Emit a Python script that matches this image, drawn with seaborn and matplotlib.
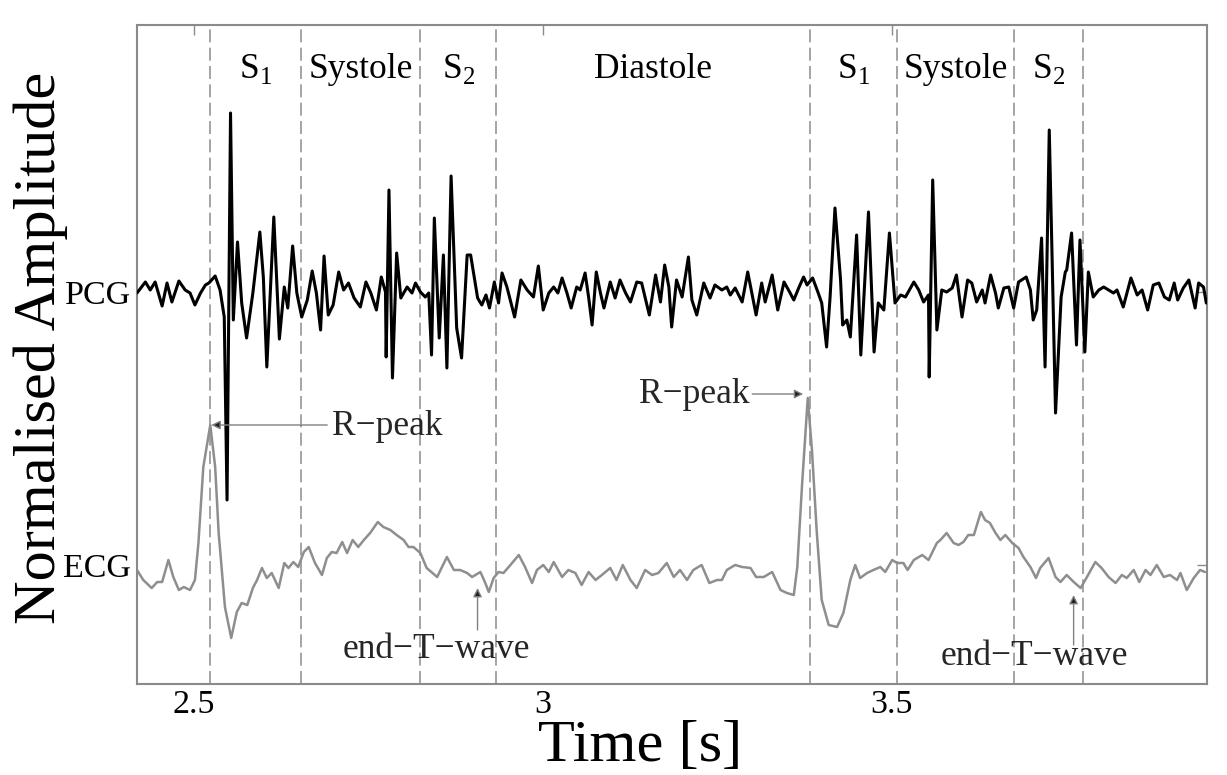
import numpy as np
import pandas as pd
import matplotlib
matplotlib.use("Agg")
import matplotlib.pyplot as plt
import seaborn as sns

# ---------------- data ----------------
pcg_t = [
    2.419, 2.431, 2.438, 2.445, 2.455, 2.462, 2.469, 2.479, 2.488, 2.495,
    2.502, 2.510, 2.517, 2.522, 2.531, 2.538, 2.544, 2.548, 2.553, 2.557,
    2.563, 2.569, 2.576, 2.585, 2.595, 2.600, 2.605, 2.615, 2.623, 2.630,
    2.635, 2.642, 2.648, 2.655, 2.663, 2.670, 2.676, 2.682, 2.687, 2.693,
    2.700, 2.708, 2.715, 2.722, 2.730, 2.739, 2.747, 2.754, 2.762, 2.769,
    2.775, 2.776, 2.780, 2.785, 2.791, 2.797, 2.806, 2.813, 2.818, 2.825,
    2.832, 2.837, 2.841, 2.845, 2.852, 2.858, 2.863, 2.869, 2.877, 2.884,
    2.892, 2.897, 2.907, 2.913, 2.919, 2.924, 2.931, 2.937, 2.942, 2.949,
    2.960, 2.969, 2.978, 2.987, 2.994, 3.001, 3.009, 3.016, 3.022, 3.028,
    3.035, 3.041, 3.049, 3.054, 3.061, 3.066, 3.071, 3.077, 3.083, 3.088,
    3.097, 3.104, 3.111, 3.119, 3.126, 3.135, 3.142, 3.153, 3.162, 3.169,
    3.175, 3.181, 3.185, 3.192, 3.200, 3.209, 3.214, 3.221, 3.231, 3.240,
    3.247, 3.257, 3.264, 3.269, 3.276, 3.286, 3.294, 3.306, 3.314, 3.319,
    3.329, 3.337, 3.346, 3.354, 3.360, 3.367, 3.374, 3.379, 3.387, 3.395,
    3.400, 3.407, 3.412, 3.419, 3.427, 3.430, 3.436, 3.441, 3.450, 3.456,
    3.467, 3.475, 3.481, 3.489, 3.497, 3.505, 3.513, 3.520, 3.532, 3.539,
    3.546, 3.553, 3.554, 3.559, 3.565, 3.572, 3.579, 3.587, 3.593, 3.601,
    3.609, 3.615, 3.622, 3.630, 3.634, 3.642, 3.649, 3.653, 3.661, 3.668,
    3.675, 3.682, 3.693, 3.699, 3.703, 3.708, 3.715, 3.720, 3.726, 3.735,
    3.743, 3.749, 3.751, 3.758, 3.765, 3.770, 3.777, 3.782, 3.789, 3.797,
    3.804, 3.811, 3.818, 3.823, 3.832, 3.843, 3.852, 3.859, 3.867, 3.875,
    3.883, 3.891, 3.898, 3.905, 3.910, 3.918, 3.926, 3.935, 3.940, 3.947,
    3.951,
]
pcg_amp = [
    -0.01, 0.10, 0.02, 0.10, -0.14, 0.09, -0.10, 0.11, 0.02, -0.01,
    -0.13, -0.01, 0.07, 0.09, 0.16, 0.02, -0.25, -2.08, 1.79, -0.28,
    0.50, -0.11, -0.46, -0.01, 0.60, 0.15, -0.75, 0.75, -0.47, 0.05,
    -0.16, 0.46, -0.01, -0.25, -0.08, 0.21, -0.01, -0.38, 0.36, -0.23,
    -0.13, 0.20, 0.02, 0.09, -0.06, -0.15, 0.10, -0.01, -0.18, 0.15,
    0.00, -0.65, 1.02, -0.86, 0.39, -0.06, 0.05, -0.01, 0.09, 0.00,
    -0.05, -0.01, -0.63, 0.74, -0.46, 0.37, -0.76, 1.16, -0.36, -0.66,
    0.37, 0.37, -0.06, -0.13, -0.03, -0.16, 0.10, -0.11, 0.19, 0.05,
    -0.25, 0.12, 0.02, -0.05, 0.26, -0.18, -0.01, 0.05, -0.01, 0.14,
    -0.01, -0.16, 0.05, 0.02, 0.19, -0.05, -0.33, 0.20, -0.01, -0.16,
    0.10, -0.06, 0.12, -0.01, -0.10, 0.10, 0.09, -0.23, 0.17, -0.10,
    0.27, 0.05, -0.35, 0.12, -0.05, 0.35, -0.08, -0.23, 0.09, -0.06,
    0.07, 0.02, 0.05, -0.03, 0.04, -0.10, 0.20, -0.23, 0.09, -0.10,
    0.17, -0.18, 0.10, 0.00, -0.08, 0.04, 0.15, 0.07, 0.14, -0.01,
    -0.11, -0.55, -0.05, 0.84, 0.12, -0.33, -0.28, -0.45, 0.57, -0.63,
    0.80, -0.60, -0.11, -0.18, 0.59, -0.11, -0.03, -0.05, 0.10, 0.02,
    -0.10, -0.03, -0.85, 1.12, -0.38, 0.02, 0.00, 0.04, 0.17, -0.25,
    0.12, 0.09, -0.10, 0.02, -0.11, 0.17, -0.01, -0.16, 0.04, 0.05,
    -0.16, 0.10, 0.15, 0.02, -0.28, -0.18, 0.54, -0.75, 1.62, -1.21,
    -0.05, 0.20, 0.22, 0.59, -0.53, 0.52, -0.60, 0.20, -0.05, 0.02,
    0.05, 0.02, -0.01, 0.02, -0.15, 0.14, -0.03, 0.02, -0.18, 0.07,
    0.09, -0.05, -0.08, 0.09, -0.08, 0.04, 0.12, -0.16, 0.09, 0.05,
    -0.11,
]
ecg_t = [
    2.419, 2.428, 2.440, 2.448, 2.455, 2.464, 2.471, 2.479, 2.486, 2.495,
    2.502, 2.507, 2.514, 2.524, 2.531, 2.536, 2.545, 2.554, 2.562, 2.569,
    2.577, 2.585, 2.591, 2.598, 2.605, 2.612, 2.622, 2.630, 2.636, 2.643,
    2.650, 2.658, 2.665, 2.674, 2.684, 2.691, 2.698, 2.705, 2.713, 2.720,
    2.728, 2.736, 2.744, 2.753, 2.764, 2.772, 2.782, 2.791, 2.801, 2.808,
    2.815, 2.825, 2.834, 2.849, 2.863, 2.873, 2.882, 2.892, 2.899, 2.911,
    2.918, 2.923, 2.930, 2.937, 2.944, 2.954, 2.966, 2.975, 2.985, 2.992,
    3.001, 3.009, 3.016, 3.028, 3.037, 3.047, 3.056, 3.066, 3.076, 3.085,
    3.097, 3.106, 3.115, 3.126, 3.135, 3.147, 3.157, 3.166, 3.178, 3.188,
    3.197, 3.207, 3.216, 3.228, 3.239, 3.250, 3.257, 3.264, 3.276, 3.286,
    3.298, 3.306, 3.317, 3.329, 3.341, 3.350, 3.360, 3.365, 3.372, 3.380,
    3.386, 3.393, 3.400, 3.410, 3.422, 3.431, 3.441, 3.448, 3.455, 3.465,
    3.474, 3.484, 3.491, 3.501, 3.508, 3.517, 3.523, 3.532, 3.544, 3.553,
    3.565, 3.570, 3.579, 3.589, 3.596, 3.603, 3.610, 3.618, 3.628, 3.634,
    3.641, 3.649, 3.656, 3.663, 3.673, 3.682, 3.689, 3.699, 3.707, 3.713,
    3.725, 3.735, 3.742, 3.751, 3.761, 3.771, 3.780, 3.792, 3.801, 3.811,
    3.821, 3.830, 3.837, 3.847, 3.855, 3.864, 3.871, 3.880, 3.890, 3.899,
    3.909, 3.914, 3.923, 3.933, 3.942, 3.949,
]
ecg_amp = [
    -0.05, -0.15, -0.23, -0.17, -0.17, 0.05, -0.12, -0.25, -0.22, -0.25,
    -0.15, 0.22, 0.98, 1.40, 0.98, 0.32, -0.42, -0.73, -0.47, -0.38,
    -0.40, -0.23, -0.15, -0.03, -0.13, -0.08, -0.23, 0.02, -0.03, 0.03,
    -0.02, 0.13, 0.18, 0.02, -0.10, 0.07, 0.13, 0.12, 0.23, 0.12,
    0.25, 0.18, 0.25, 0.32, 0.43, 0.38, 0.35, 0.30, 0.25, 0.18,
    0.18, 0.12, -0.03, -0.12, 0.08, -0.05, -0.05, -0.08, -0.12, -0.07,
    -0.18, -0.27, -0.13, -0.07, -0.08, 0.00, 0.10, -0.02, -0.18, -0.05,
    0.00, -0.07, 0.03, -0.12, -0.05, -0.08, -0.20, -0.07, -0.15, -0.10,
    -0.03, -0.15, 0.00, -0.15, -0.23, -0.05, -0.10, -0.08, 0.02, -0.12,
    -0.05, -0.15, -0.05, 0.00, -0.18, -0.15, -0.15, -0.05, 0.00, -0.02,
    -0.03, -0.12, -0.12, -0.07, -0.25, -0.28, -0.30, -0.02, 0.82, 1.67,
    1.15, 0.32, -0.35, -0.60, -0.62, -0.48, -0.15, 0.00, -0.13, -0.08,
    -0.05, -0.02, -0.07, 0.05, 0.02, 0.02, -0.05, 0.05, 0.10, 0.05,
    0.22, 0.25, 0.32, 0.22, 0.20, 0.23, 0.30, 0.30, 0.53, 0.45,
    0.42, 0.32, 0.25, 0.30, 0.22, 0.17, 0.08, -0.02, -0.13, -0.03,
    0.07, -0.12, -0.17, -0.10, -0.17, -0.23, -0.12, 0.03, -0.03, -0.12,
    -0.18, -0.10, -0.13, -0.05, -0.17, -0.05, -0.10, 0.00, -0.12, -0.10,
    -0.15, -0.08, -0.25, -0.13, -0.05, -0.07,
]
phase_bounds = [2.523, 2.654, 2.825, 2.934, 3.383, 3.508, 3.676, 3.774]
phase_names = ["S$_\\mathregular{1}$", "Systole", "S$_\\mathregular{2}$", "Diastole",
               "S$_\\mathregular{1}$", "Systole", "S$_\\mathregular{2}$"]
x_ticks = [2.5, 3.0, 3.5]
x_tick_labels = ["2.5", "3", "3.5"]
channel_names = ["ECG", "PCG"]
channel_offsets = [0.0, 2.73]

# ---------------- style ----------------
sns.set_theme(style="white")
plt.rcParams["font.family"] = ["Liberation Serif", "DejaVu Serif"]
plt.rcParams["mathtext.fontset"] = "custom"
plt.rcParams["mathtext.rm"] = "Liberation Serif"

fig = plt.figure(figsize=(12.27, 7.75), dpi=100)
ax = fig.add_axes([137 / 1227, 91 / 775, 1070 / 1227, 659 / 775])

frame_col = "#8a8a8a"

# phase boundaries
for b in phase_bounds:
    ax.axvline(b, color="#8c8c8c", lw=1.1, ls=(0, (8.5, 3.5)), zorder=1)

df_ecg = pd.DataFrame({"t": ecg_t, "y": np.array(ecg_amp) + channel_offsets[0]})
df_pcg = pd.DataFrame({"t": pcg_t, "y": np.array(pcg_amp) + channel_offsets[1]})
sns.lineplot(data=df_ecg, x="t", y="y", ax=ax, color="#8e8e8e", lw=1.8,
             sort=False, estimator=None, zorder=2, solid_joinstyle="round")
sns.lineplot(data=df_pcg, x="t", y="y", ax=ax, color="black", lw=2.2,
             sort=False, estimator=None, zorder=3, solid_joinstyle="round")

# phase labels
for i, name in enumerate(phase_names):
    mid = 0.5 * (phase_bounds[i] + phase_bounds[i + 1])
    ax.text(mid, 4.87, name, ha="center", va="baseline", fontsize=25.5, color="black")

# annotations
arrow_kw = dict(arrowstyle="-|>", ec="#808080", fc="#222222", lw=1.0,
                mutation_scale=13, shrinkA=0, shrinkB=0)
ax.annotate("", xy=(2.5255, 1.40), xytext=(2.6915, 1.40), arrowprops=arrow_kw)
ax.text(2.6987, 1.30, "R\u2212peak", ha="left", va="baseline", fontsize=25.5)
ax.annotate("", xy=(3.3735, 1.71), xytext=(3.3004, 1.71), arrowprops=arrow_kw)
ax.text(3.2961, 1.62, "R\u2212peak", ha="right", va="baseline", fontsize=25.5)
ax.annotate("", xy=(2.9069, -0.23), xytext=(2.9069, -0.65), arrowprops=arrow_kw)
ax.text(2.8477, -0.93, "end\u2212T\u2212wave", ha="center", va="baseline", fontsize=25.5)
ax.annotate("", xy=(3.7609, -0.30), xytext=(3.7609, -0.80), arrowprops=arrow_kw)
ax.text(3.7044, -1.00, "end\u2212T\u2212wave", ha="center", va="baseline", fontsize=25.5)

# axes
ax.set_xlim(2.419, 3.952)
ax.set_ylim(-1.19, 5.40)
ax.set_xticks(x_ticks)
ax.set_xticklabels(x_tick_labels)
ax.set_yticks(channel_offsets)
ax.set_yticklabels(channel_names)
ax.tick_params(direction="in", length=7, width=1.0, color=frame_col,
               top=True, right=True, labelsize=24.5, pad=4, labelcolor="black")
for sp in ax.spines.values():
    sp.set_color(frame_col)
    sp.set_linewidth(1.5)
ax.grid(False)

ax.set_xlabel("Time [s]", fontsize=43.5, color="black")
ax.set_ylabel("Normalised Amplitude", fontsize=43.5, color="black")
ax.xaxis.set_label_coords(0.47, -0.0546)
ax.yaxis.set_label_coords(-0.0645, 0.5106)

fig.savefig("out.png", dpi=100)
